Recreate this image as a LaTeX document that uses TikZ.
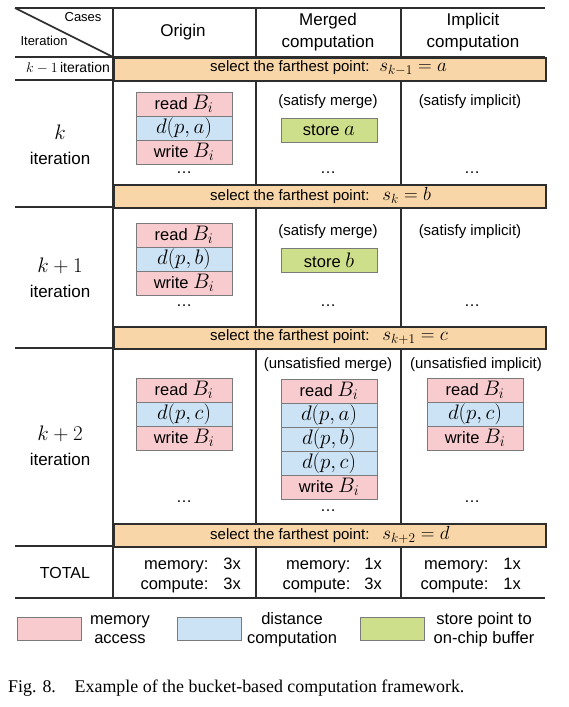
\RequirePackage{fix-cm}
\documentclass[tikz,border=0pt]{standalone}
\usepackage[no-math]{fontspec}
\setmainfont{Liberation Sans}
\newfontfamily\capfont{Liberation Serif}
\usetikzlibrary{positioning}
\definecolor{memfill}{HTML}{F8CBCF}
\definecolor{distfill}{HTML}{CCE3F5}
\definecolor{storefill}{HTML}{CEDF8C}
\definecolor{barfill}{HTML}{F8D6A8}
\definecolor{boxgray}{HTML}{7A7A7A}
\definecolor{linegray}{HTML}{2E2E2E}
\newcommand{\fsz}[2]{\fontsize{#1}{#2}\selectfont}
\newcommand{\mth}[1]{{\fsz{21}{22}$#1$}}
\newcommand{\bmth}[1]{{\fsz{19}{21}$#1$}}
\tikzset{
  tabline/.style={draw=linegray, line width=1.6pt},
  cell/.style={draw=boxgray, line width=0.9pt, minimum width=96pt, minimum height=24pt,
    inner sep=0pt, outer sep=0pt, font=\fsz{16.5}{18}},
  memcell/.style={cell, fill=memfill},
  distcell/.style={cell, fill=distfill},
  storecell/.style={cell, fill=storefill},
  legbox/.style={draw=boxgray, line width=0.9pt, minimum width=64pt, minimum height=23pt,
    inner sep=0pt},
  selbar/.style={draw=linegray, line width=1.5pt, fill=barfill, minimum width=432pt,
    minimum height=23pt, inner sep=0pt, anchor=north west},
  bartext/.style={font=\fsz{15}{17}, inner sep=0pt, anchor=west},
  note/.style={font=\fsz{15}{17}},
  hdr/.style={font=\fsz{17}{22}, align=center},
  itlabel/.style={font=\fsz{17}{25}, align=center},
  dots/.style={font=\fsz{16}{18}},
  total/.style={font=\fsz{16.5}{20}, inner sep=0pt, anchor=east},
  legtext/.style={font=\fsz{16.5}{19}, align=center},
}
\begin{document}
\begin{tikzpicture}[x=1pt,y=-1pt]
\useasboundingbox (0,0) rectangle (569,707);

% grid of the table
\foreach \y in {8,57,80,207,348,546,598}
  \draw[tabline] (15,\y) -- (545,\y);
\foreach \x in {113,256,401}
  \draw[tabline] (\x,8) -- (\x,598);
\draw[tabline] (15,8) -- (113,57);

% header
\node[font=\fsz{13}{15}, anchor=east] (cases) at (105,17) {Cases};
\node[font=\fsz{13}{15}, anchor=west] (iterhdr) at (17,41) {Iteration};
\node[hdr] (origin) at (183,32) {Origin};
\node[hdr] (merged) at (328,32) {Merged\\computation};
\node[hdr] (implicit) at (473,32) {Implicit\\computation};

% selection bars
\node[selbar] (sel0) at (113,57) {};
\node[bartext] (sel0t) at (210,68.5) {select the farthest point:\hspace{10pt}\bmth{s_{k-1}=a}};
\node[selbar] (sel1) at (113,184) {};
\node[bartext] (sel1t) at (210,195.5) {select the farthest point:\hspace{13pt}\bmth{s_{k}=b}};
\node[selbar, minimum height=22pt] (sel2) at (113,326) {};
\node[bartext] (sel2t) at (210,337) {select the farthest point:\hspace{13pt}\bmth{s_{k+1}=c}};
\node[selbar] (sel3) at (113,523) {};
\node[bartext] (sel3t) at (210,534.5) {select the farthest point:\hspace{13pt}\bmth{s_{k+2}=d}};

% iteration labels
\node[font=\fsz{14}{16}] (itkm1) at (68,68) {$k-1$\,iteration};
\node[itlabel] (itk) at (60,145) {\mth{k}\\iteration};
\node[itlabel] (itk1) at (60,278) {\mth{k+1}\\iteration};
\node[itlabel] (itk2) at (60,446) {\mth{k+2}\\iteration};

% origin column
\node[memcell] (ork) at (184,104) {read \mth{B_i}};
\node[distcell, below=0pt of ork] (odk) {\mth{d(p,a)}};
\node[memcell, below=0pt of odk] (owk) {write \mth{B_i}};
\node[dots] (odotk) at (184,173) {\dots};

\node[memcell] (ork1) at (184,235) {read \mth{B_i}};
\node[distcell, below=0pt of ork1] (odk1) {\mth{d(p,b)}};
\node[memcell, below=0pt of odk1] (owk1) {write \mth{B_i}};
\node[dots] (odotk1) at (184,306) {\dots};

\node[memcell] (ork2) at (184,390) {read \mth{B_i}};
\node[distcell, below=0pt of ork2] (odk2) {\mth{d(p,c)}};
\node[memcell, below=0pt of odk2] (owk2) {write \mth{B_i}};
\node[dots] (odotk2) at (184,502) {\dots};

% merged column
\node[note] (mnk) at (328,102) {(satisfy merge)};
\node[storecell] (msk) at (329,130) {store \mth{a}};
\node[dots] (mdotk) at (328,173) {\dots};

\node[note] (mnk1) at (328,232) {(satisfy merge)};
\node[storecell] (msk1) at (329,260) {store \mth{b}};
\node[dots] (mdotk1) at (328,306) {\dots};

\node[note] (mnk2) at (328,365) {(unsatisfied merge)};
\node[memcell] (mrk2) at (329,391) {read \mth{B_i}};
\node[distcell, below=0pt of mrk2] (mdak2) {\mth{d(p,a)}};
\node[distcell, below=0pt of mdak2] (mdbk2) {\mth{d(p,b)}};
\node[distcell, below=0pt of mdbk2] (mdck2) {\mth{d(p,c)}};
\node[memcell, below=0pt of mdck2] (mwk2) {write \mth{B_i}};
\node[dots] (mdotk2) at (328,511) {\dots};

% implicit column
\node[note] (ink) at (470,102) {(satisfy implicit)};
\node[dots] (idotk) at (472,173) {\dots};
\node[note] (ink1) at (470,232) {(satisfy implicit)};
\node[dots] (idotk1) at (472,306) {\dots};
\node[note] (ink2) at (476,365) {(unsatisfied implicit)};
\node[memcell] (irk2) at (475,390) {read \mth{B_i}};
\node[distcell, below=0pt of irk2] (idk2) {\mth{d(p,c)}};
\node[memcell, below=0pt of idk2] (iwk2) {write \mth{B_i}};
\node[dots] (idotk2) at (472,502) {\dots};

% totals
\node[font=\fsz{16}{18}] (total) at (65,573) {TOTAL};
\node[total] (torig) at (241,575) {\begin{tabular}{@{}r@{\hspace{15pt}}l@{}}memory: & 3x\\ compute: & 3x\end{tabular}};
\node[total] (tmerg) at (382,575) {\begin{tabular}{@{}r@{\hspace{14pt}}l@{}}memory: & 1x\\ compute: & 3x\end{tabular}};
\node[total] (timpl) at (521,575) {\begin{tabular}{@{}r@{\hspace{15pt}}l@{}}memory: & 1x\\ compute: & 1x\end{tabular}};

% legend
\node[legbox, fill=memfill] (legmem) at (49,628.5) {};
\node[legtext] (legmemt) at (120,629.5) {memory\\access};
\node[legbox, fill=distfill] (legdist) at (209,628.5) {};
\node[legtext] (legdistt) at (292,629.5) {distance\\computation};
\node[legbox, fill=storefill] (legstore) at (392.5,628.5) {};
\node[legtext] (legstoret) at (484,629.5) {store point to\\on-chip buffer};

% caption
\node[anchor=west, inner sep=0pt, font=\capfont\fsz{17.9}{20}] (caption) at (8,688)
  {Fig. 8.\hspace{1.05em}Example of the bucket-based computation framework.};
\end{tikzpicture}
\end{document}
